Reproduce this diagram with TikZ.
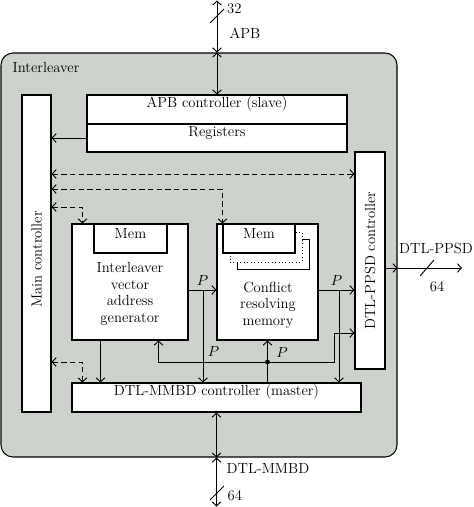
\documentclass[tikz,border=0pt]{standalone}
\usetikzlibrary{arrows.meta,calc,fit,positioning}
\definecolor{framegray}{RGB}{205,210,204}
\tikzset{
    blk/.style={draw, fill=white, inner sep=0pt, line width=0.8pt},
    sig/.style={line width=0.7pt},
    ctl/.style={sig, dash pattern=on 4pt off 2.5pt},
    busslash/.style={line width=0.7pt}
}
\begin{document}
\begin{tikzpicture}[x=0.75pt, y=-0.75pt, >={Straight Barb[length=3pt,width=6.5pt]},
                    font=\fontsize{11}{12.5}\selectfont]
    \useasboundingbox (0,0) rectangle (474,507);

    % the interleaver frame
    \node[draw, fill=framegray, line width=0.8pt, rounded corners=9pt, inner sep=0pt,
          fit={(1,53)(397,457)}] (frame) {};
    \node[anchor=west] (ilvtxt) at (8,67) {Interleaver};

    % the blocks
    \node[blk, fit={(22,95)(51,412)}] (main) {};
    \node[rotate=90] (maintxt) at ($(main)+(0,6)$) {Main controller};
    \node[blk, fit={(87,95)(347,124)}] (apb) {APB controller (slave)};
    \node[blk, fit={(87,124)(347,152)}] (reg) {Registers};
    \node[blk, fit={(355,152)(385,369)}] (ppsd) {};
    \node[rotate=90] (ppsdtxt) at (ppsd) {DTL-PPSD controller};
    \node[blk, fit={(72,383)(361,412)}] (mmbd) {DTL-MMBD controller (master)};

    \node[blk, fit={(72,224)(188,340)}] (ivag) {};
    \node[blk, fit={(94,224)(167,253)}] (memA) {Mem};
    \node[align=center] (ivagtxt) at (130,294) {Interleaver\\vector\\address\\generator};

    \node[blk, fit={(217,224)(318,340)}] (crm) {};
    \node[blk, line width=0.7pt, fit={(237,239)(309,269)}] (memC) {};
    \node[blk, line width=0.6pt, dotted, fit={(230,232)(302,262)}] (memD) {};
    \node[blk, fit={(223,224)(295,253)}] (memB) {Mem};
    \node[align=center] (crmtxt) at (268,305) {Conflict\\resolving\\memory};

    % levels of the connectors
    \coordinate (lvlA) at (0,174);
    \coordinate (lvlB) at (0,189);
    \coordinate (lvlC) at (0,207);
    \coordinate (lvlP) at (0,290);
    \coordinate (lvlQ) at (0,333);
    \coordinate (lvlR) at (0,362);
    \coordinate (lvlS) at (0,268);

    % control lines
    \draw[sig,->] (reg.west) -- (reg.west -| main.east);
    \draw[ctl,<->] (main.east |- lvlA) -- (ppsd.west |- lvlA);
    \draw[ctl,<->] (main.east |- lvlB) -| (memB.north west);
    \draw[ctl,<->] (main.east |- lvlC) -| ($(ivag.north west)+(11,0)$);
    \draw[ctl,<->] (main.east |- lvlR) -| ($(mmbd.north west)+(11,0)$);

    % data paths
    \draw[sig,->] (ivag.east |- lvlP) -- (crm.west |- lvlP) node[midway, above]{$P$};
    \coordinate (jA) at (203,290);
    \draw[sig,->] (jA) -- (jA |- mmbd.north) node[pos=.67, right]{$P$};
    \draw[sig,->] (crm.east |- lvlP) -- (ppsd.west |- lvlP) node[midway, above]{$P$};
    \coordinate (jB) at (339,290);
    \draw[sig,->] (jB) -- (jB |- mmbd.north);
    \coordinate (ivo) at ($(ivag.south west)+(29,0)$);
    \draw[sig,->] (ivo) -- (ivo |- mmbd.north);

    \draw[sig,->] (crm.south |- mmbd.north) -- (crm.south) node[pos=.72, right, xshift=3pt]{$P$};
    \node[circle, fill, inner sep=1.3pt] (dot) at (crm.south |- lvlR) {};
    \draw[sig,->] (dot) -| ($(ivag.south west)+(87,0)$);
    \coordinate (qcorner) at (334,333);
    \draw[sig,->] (dot) -| (qcorner) -- (qcorner -| ppsd.west);

    % APB bus
    \coordinate (apbend) at (217,0.5);
    \draw[sig,<->] (apbend) -- (apb.north |- frame.north);
    \draw[sig,<->] (apb.north |- frame.north) -- (apb.north);
    \draw[busslash] (210,23) -- (224,9) node[right, inner sep=2pt]{32};
    \node[anchor=west] (apbtxt) at (225,33) {APB};

    % DTL-MMBD bus
    \coordinate (mmbdend) at (216.5,506.5);
    \draw[sig,<->] (mmbd.south) -- (mmbd.south |- frame.south);
    \draw[sig,<->] (mmbd.south |- frame.south) -- (mmbdend);
    \draw[busslash] (210,500) -- (224,486);
    \node[anchor=west] (mmbdnum) at (223,496) {64};
    \node[anchor=west] (mmbdtxt) at (222,468) {DTL-MMBD};

    % DTL-PPSD bus
    \coordinate (ppsdend) at (462,268);
    \draw[sig,->] (ppsd.east |- lvlS) -- (frame.east |- lvlS);
    \draw[sig,->] (frame.east |- lvlS) -- (ppsdend);
    \draw[busslash] (420,276) -- (434,260);
    \node (ppsdbus) at (436,248) {DTL-PPSD};
    \node (ppsdnum) at (437,287) {64};
\end{tikzpicture}
\end{document}
